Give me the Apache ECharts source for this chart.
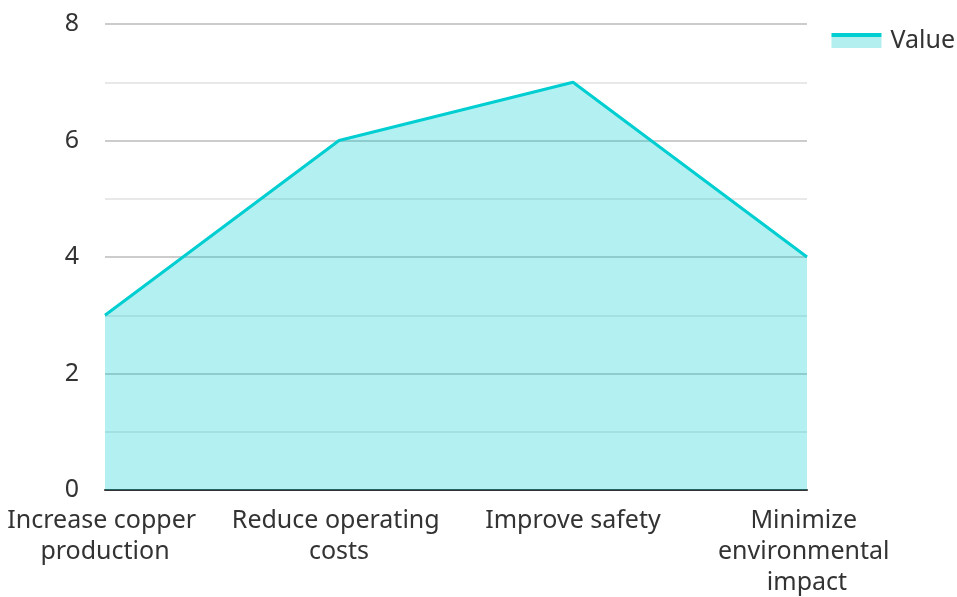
<!DOCTYPE html>
<html>
<head>
<meta charset="utf-8">
<script src="https://cdn.jsdelivr.net/npm/echarts@6/dist/echarts.min.js"></script>
<style>
  html, body { margin: 0; padding: 0; background: #fff; }
  #chart { width: 957px; height: 597px; }
</style>
</head>
<body>
<div id="chart"></div>
<script>
// Goals and their scores
const categories = [
  'Increase copper production',
  'Reduce operating costs',
  'Improve safety',
  'Minimize environmental impact'
];
const values = [3, 6, 7, 4];
const seriesName = 'Value';

const lineColor = '#00CED1';
const fillColor = 'rgba(0, 206, 209, 0.3)';
const fontFamily = '"Noto Sans", "Open Sans", sans-serif';

const chart = echarts.init(document.getElementById('chart'));
chart.setOption({
  animation: false,
  backgroundColor: '#ffffff',
  textStyle: { fontFamily: fontFamily },
  grid: {
    left: 105, right: 150, top: 24, bottom: 107,
    containLabel: false,
    outerBoundsMode: 'none'
  },
  legend: {
    right: 2,
    top: 28,
    padding: 0,
    icon: 'rect',
    itemWidth: 50,
    itemHeight: 15,
    itemGap: 10,
    data: [{
      name: seriesName,
      itemStyle: {
        color: {
          type: 'linear', x: 0, y: 0, x2: 0, y2: 1,
          colorStops: [
            { offset: 0, color: lineColor },
            { offset: 0.25, color: lineColor },
            { offset: 0.25, color: '#b2efee' },
            { offset: 1, color: '#b2efee' }
          ]
        }
      }
    }],
    textStyle: { fontSize: 25, color: '#333', fontFamily: fontFamily, padding: [0, 0, 4, 4] }
  },
  xAxis: {
    type: 'category',
    data: categories,
    boundaryGap: false,
    axisLine: { show: true, lineStyle: { color: '#333', width: 2 } },
    axisTick: { show: false },
    splitLine: { show: false },
    axisLabel: {
      interval: 0,
      margin: 15,
      fontSize: 25,
      lineHeight: 31,
      color: '#333',
      width: 235,
      overflow: 'break',
      align: 'center'
    }
  },
  yAxis: {
    type: 'value',
    min: 0,
    max: 8,
    interval: 2,
    axisLine: { show: false },
    axisTick: { show: false },
    axisLabel: { fontSize: 25, color: '#333', margin: 26 },
    splitLine: { show: true, lineStyle: { color: '#cccccc', width: 2 } },
    minorTick: { show: false, splitNumber: 2 },
    minorSplitLine: { show: true, lineStyle: { color: '#e8e8e8', width: 2 } }
  },
  series: [{
    name: seriesName,
    type: 'line',
    data: values,
    symbol: 'none',
    lineStyle: { color: lineColor, width: 3 },
    itemStyle: { color: lineColor },
    areaStyle: { color: fillColor, opacity: 1 }
  }]
});
</script>
</body>
</html>
